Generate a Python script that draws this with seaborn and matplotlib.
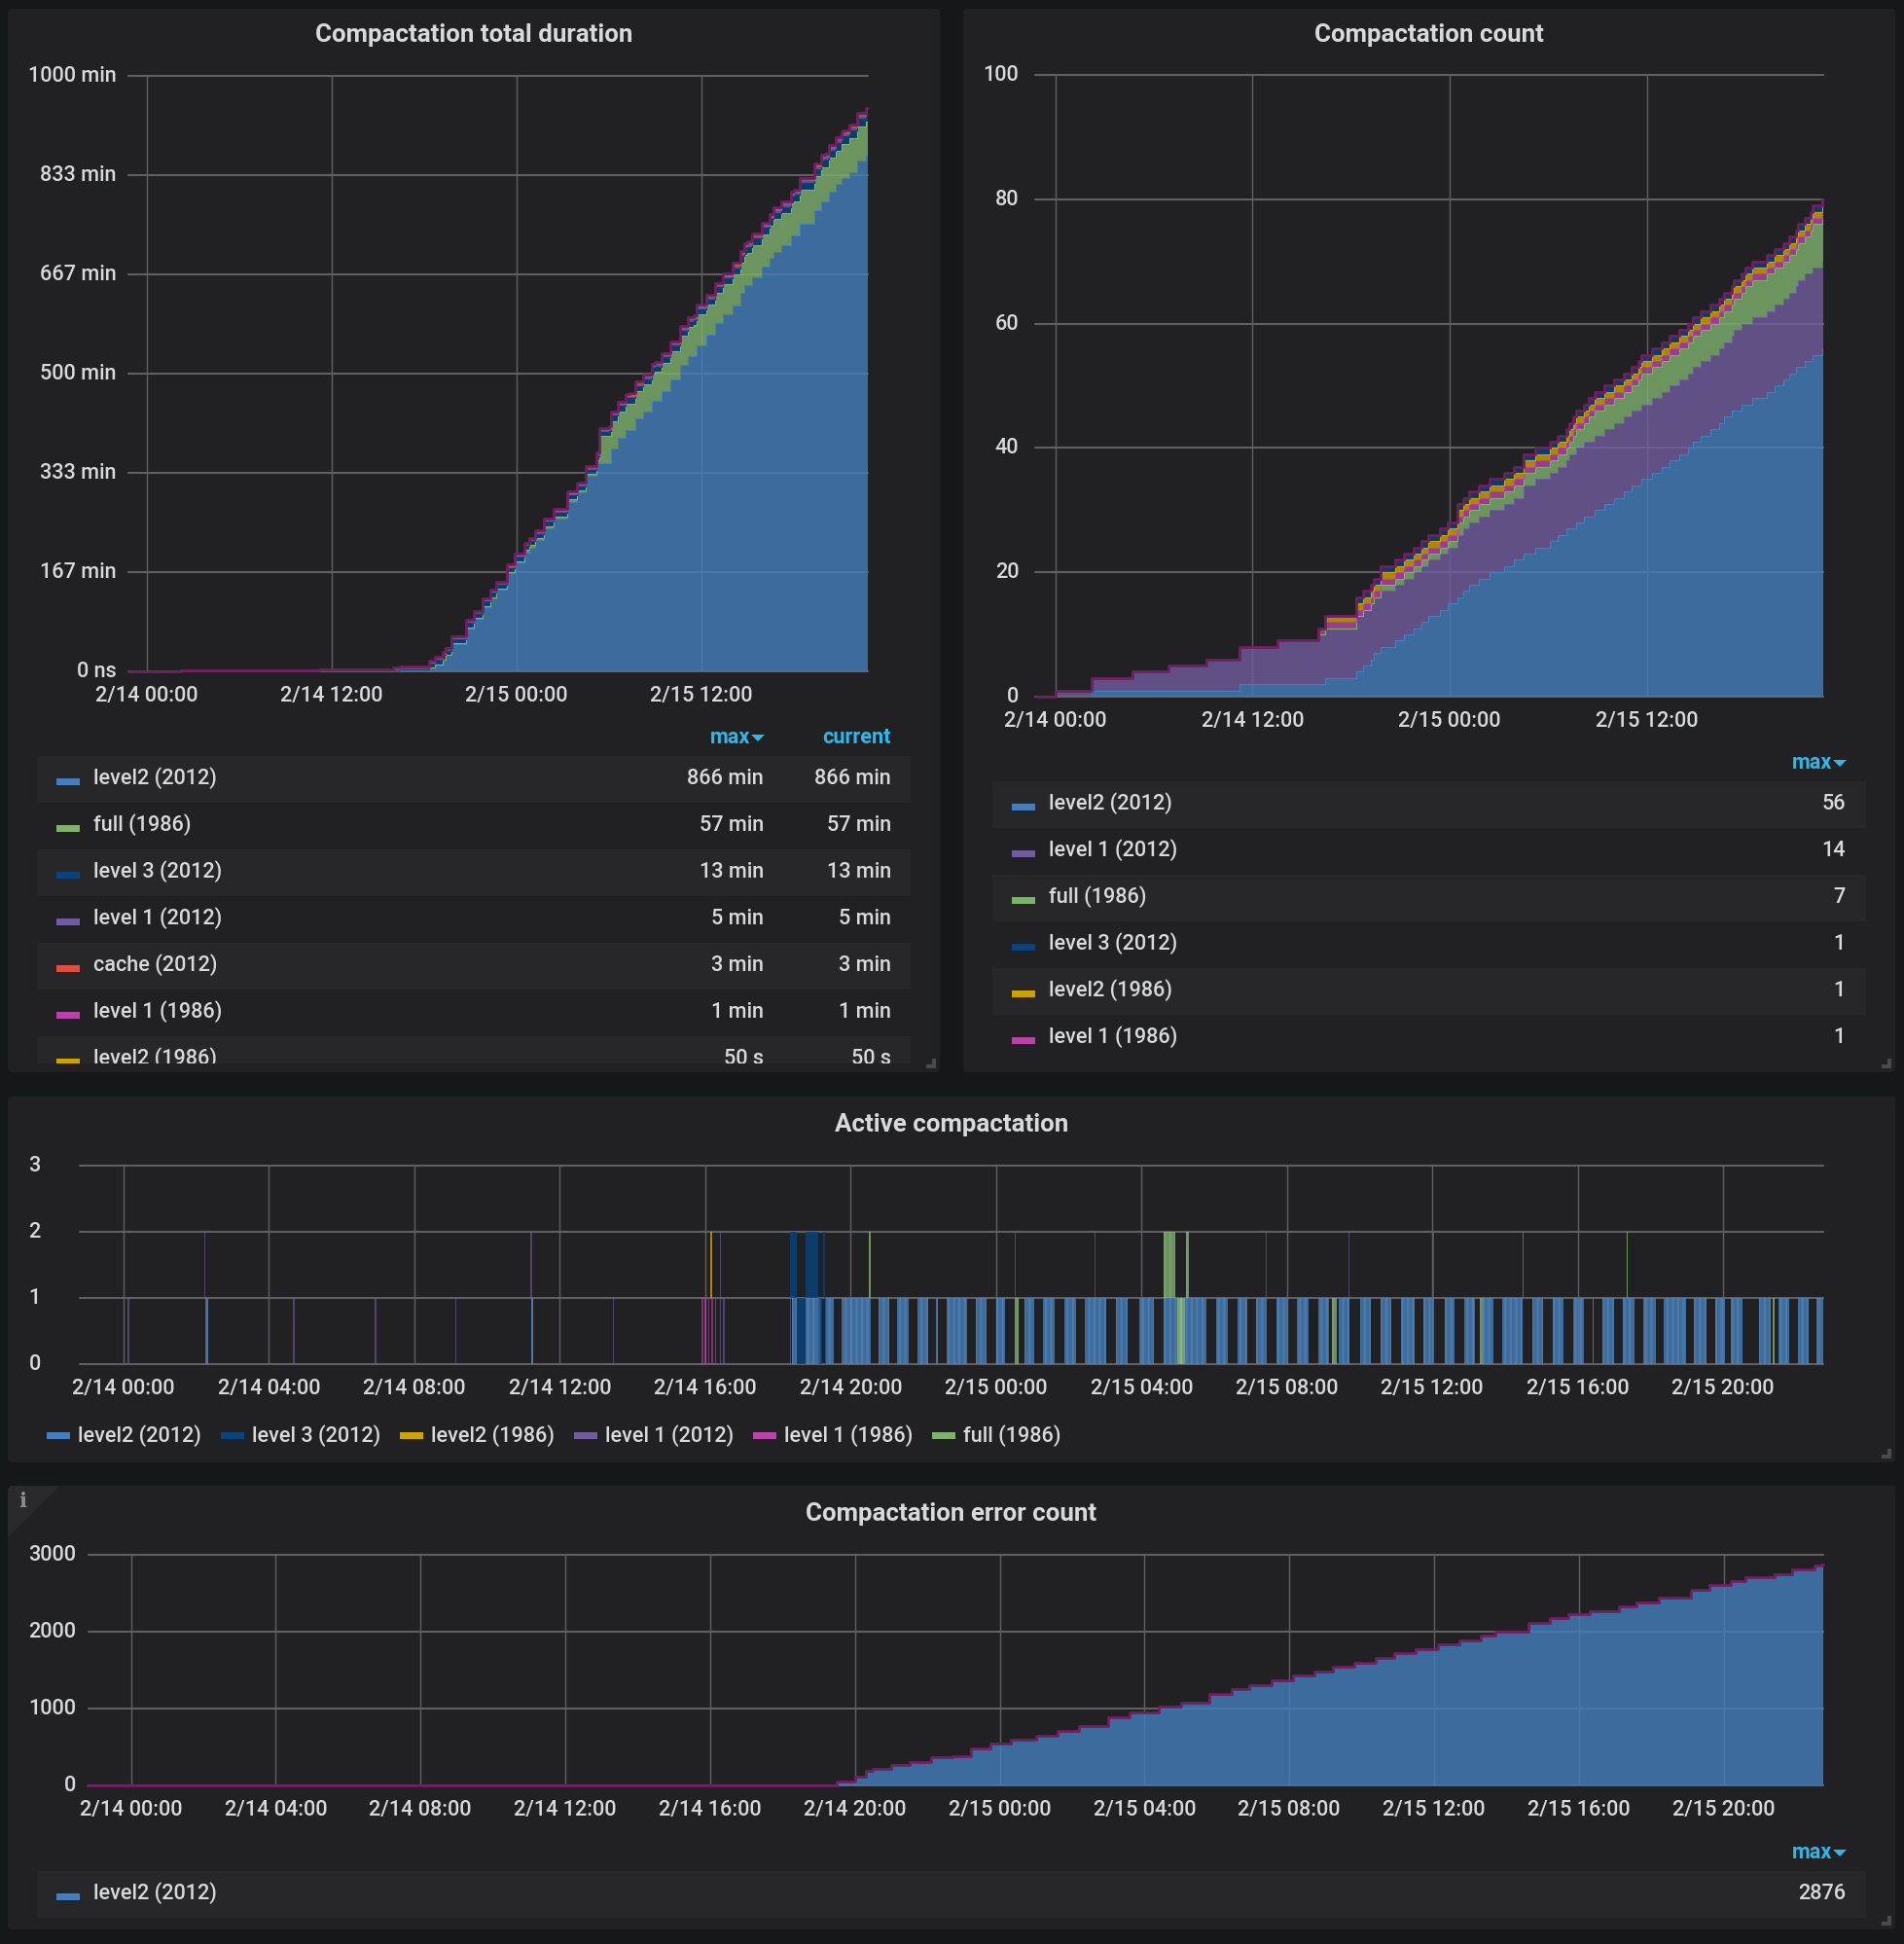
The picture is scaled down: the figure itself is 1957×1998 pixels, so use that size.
import numpy as np
import pandas as pd
import seaborn as sns
from matplotlib import pyplot as plt
from matplotlib.patches import FancyBboxPatch, Polygon, Rectangle
from matplotlib.transforms import ScaledTranslation

W, H = 1958, 1998
PAGE = '#161719'
PANEL = '#212124'
ROW = '#27272a'
GRID = '#606063'
TEXT = '#d8d9da'
LINK = '#33b5e5'
TOP_LINE = '#701f63'

BLUE = '#447EBC'
GREEN = '#7EB26D'
NAVY = '#0A437C'
PURPLE = '#705DA0'
RED = '#E24D42'
MAGENTA = '#BA43A9'
GOLD = '#CCA300'

# hours since 2/14 00:00 at which each series steps up
level2_hours = [2.2, 11.2, 16.4, 18.3, 18.7, 19.2, 19.4, 19.8, 20.7, 21.2, 21.8, 22.3, 22.7, 23.4,
                23.9, 24.5, 24.8, 25.2, 25.8, 26.4, 27.3, 27.9, 28.5, 29.2, 30.1, 30.6, 31.1, 31.7,
                32.2, 32.8, 33.4, 34.0, 34.6, 35.1, 35.7, 36.3, 36.9, 37.4, 38.0, 38.5, 38.8, 39.3,
                39.9, 40.4, 40.7, 41.2, 41.8, 42.4, 43.3, 43.8, 44.3, 44.7, 45.1, 45.6, 46.1, 46.7]
level1_hours = [0.0, 2.2, 4.7, 6.9, 9.2, 11.2, 13.5, 16.0, 18.3, 24.5, 28.5, 31.3, 41.3, 45.2]
full_hours = [19.8, 24.5, 31.5, 32.5, 35.5, 42.0, 46.0]
old_level1_hours = [16.0]
old_level2_hours = [16.4]
level3_hours = [18.3]

# total duration panel, minutes
level2_minutes = [1, 2, 4, 6, 12, 20, 28, 45, 72, 88, 108, 123, 137, 165, 183, 200, 208, 220, 240, 256,
                  285, 300, 328, 350, 375, 392, 405, 425, 437, 455, 470, 490, 515, 530, 548, 565, 585,
                  600, 615, 635, 648, 662, 680, 695, 705, 715, 732, 752, 775, 790, 805, 818, 828, 838,
                  858, 866]
full_minutes_hours = [19.8, 24.5, 29.4, 33.0, 35.5, 39.0, 42.0]
full_minutes = [2, 4, 45, 48, 51, 54, 57]
level3_minutes_hours = [18.3, 30.0, 38.0, 44.0]
level3_minutes = [7, 9, 11, 13]
level1_minutes = [0.2, 0.5, 0.7, 0.9, 1.1, 1.4, 1.6, 1.9, 2.2, 2.7, 3.3, 3.8, 4.4, 5.0]
cache_minutes_hours = [16.0, 30.0, 38.0]
cache_minutes = [1, 2, 3]
old_level1_minutes = [1.0]
old_level2_minutes = [0.8]

# active compactions: spans in hours
level2_start = [2.26, 11.22, 18.40, 18.75, 19.30, 19.76, 20.78, 21.27, 21.84, 22.36, 22.63, 23.44, 24.00,
                24.77, 25.28, 25.87, 26.43, 27.30, 27.93, 28.61, 30.06, 30.64, 31.15, 31.70, 32.27, 32.87,
                33.42, 34.00, 34.58, 35.15, 35.75, 36.33, 36.88, 37.39, 37.93, 38.76, 39.31, 39.87, 40.41,
                40.67, 41.24, 41.79, 42.35, 43.18, 43.77, 44.22, 44.73, 44.98, 45.51, 46.05, 46.55]
level2_end = [2.32, 11.27, 18.53, 19.20, 19.54, 20.56, 21.07, 21.61, 22.14, 22.41, 23.21, 23.74, 24.26,
              25.06, 25.60, 26.21, 27.04, 27.63, 28.34, 29.79, 30.37, 30.90, 31.44, 32.04, 32.60, 33.17,
              33.73, 34.32, 34.88, 35.50, 36.06, 36.61, 37.18, 37.68, 38.49, 39.04, 39.61, 40.16, 40.44,
              40.99, 41.55, 42.14, 42.98, 43.53, 44.05, 44.53, 44.75, 45.31, 45.81, 46.35, 46.75]
level3_start = [18.53, 19.11, 19.29]
level3_end = [18.75, 19.21, 19.33]
level3_second_start = [18.32, 18.75, 19.24]
level3_second_end = [18.53, 19.11, 19.30]
level1_active = [0.12, 4.67, 6.92, 9.13, 13.45, 16.40, 16.50, 18.32]
level1_second = [2.23, 11.20, 16.40, 24.51, 26.71, 31.42, 33.70, 36.03]
level2_second = [38.49]
old_level1_active = [15.90, 15.99, 16.08, 16.17, 16.26]
old_level2_second = [16.15]
full_start = [24.51, 28.97, 33.25, 37.31, 45.37]
full_end = [24.63, 29.21, 33.37, 37.39, 45.42]
full_second_start = [20.51, 28.61, 29.22, 41.34]
full_second_end = [20.56, 28.94, 29.31, 41.38]

# error count
error_hours = [18.9, 19.5, 20.0, 20.3, 20.5, 21.0, 21.5, 22.1, 22.7, 23.2, 23.75, 24.3, 25.0, 25.6, 26.2,
               27.0, 27.6, 28.4, 29.0, 29.8, 30.4, 30.9, 31.5, 32.1, 32.7, 33.2, 33.8, 34.4, 34.9, 35.5,
               36.1, 36.7, 37.3, 37.7, 38.6, 39.2, 39.7, 40.3, 41.1, 41.6, 42.2, 43.1, 43.6, 44.2, 44.6,
               45.4, 45.9, 46.5, 46.7]
error_counts = [5, 50, 120, 190, 220, 260, 310, 370, 383, 480, 538, 593, 648, 707, 770, 880, 947, 1022, 1077,
                1195, 1250, 1304, 1363, 1430, 1481, 1540, 1600, 1658, 1716, 1775, 1830, 1889, 1944, 2003,
                2112, 2171, 2230, 2272, 2327, 2385, 2440, 2550, 2613, 2655, 2710, 2751, 2815, 2865, 2876]

hour_ticks_wide = [0, 12, 24, 36]
hour_labels_wide = ['2/14 00:00', '2/14 12:00', '2/15 00:00', '2/15 12:00']
hour_ticks_full = [0, 4, 8, 12, 16, 20, 24, 28, 32, 36, 40, 44]
hour_labels_full = ['2/14 00:00', '2/14 04:00', '2/14 08:00', '2/14 12:00', '2/14 16:00', '2/14 20:00',
                    '2/15 00:00', '2/15 04:00', '2/15 08:00', '2/15 12:00', '2/15 16:00', '2/15 20:00']
duration_ticks = [0, 166.67, 333.33, 500, 666.67, 833.33, 1000]
duration_labels = ['0 ns', '167 min', '333 min', '500 min', '667 min', '833 min', '1000 min']
count_ticks = [0, 20, 40, 60, 80, 100]
active_ticks = [0, 1, 2, 3]
error_ticks = [0, 1000, 2000, 3000]

duration_names = ['level2 (2012)', 'full (1986)', 'level 3 (2012)', 'level 1 (2012)', 'cache (2012)',
                  'level 1 (1986)', 'level2 (1986)']
duration_max = ['866 min', '57 min', '13 min', '5 min', '3 min', '1 min', '50 s']
duration_colors = [BLUE, GREEN, NAVY, PURPLE, RED, MAGENTA, GOLD]
count_names = ['level2 (2012)', 'level 1 (2012)', 'full (1986)', 'level 3 (2012)', 'level2 (1986)', 'level 1 (1986)']
count_max = ['56', '14', '7', '1', '1', '1']
count_colors = [BLUE, PURPLE, GREEN, NAVY, GOLD, MAGENTA]
active_names = ['level2 (2012)', 'level 3 (2012)', 'level2 (1986)', 'level 1 (2012)', 'level 1 (1986)', 'full (1986)']
active_colors = [BLUE, NAVY, GOLD, PURPLE, MAGENTA, GREEN]

sns.set_theme(style='darkgrid', rc={'axes.facecolor': 'none', 'figure.facecolor': PAGE, 'grid.color': GRID,
                                    'hatch.linewidth': 1.6})
plt.rcParams['font.family'] = ['Roboto', 'DejaVu Sans']
plt.rcParams['font.weight'] = 'medium'
FS = 15.6

fig = plt.figure(figsize=(W / 100, H / 100), dpi=100, facecolor=PAGE)
bg = fig.add_axes([0, 0, 1, 1], zorder=-1)
bg.set_xlim(0, W)
bg.set_ylim(H, 0)
bg.axis('off')


def panel(x0, y0, x1, y1, title, title_y):
    bg.add_patch(FancyBboxPatch((x0, y0), x1 - x0, y1 - y0, boxstyle='round,pad=0,rounding_size=4',
                                fc=PANEL, ec='none', zorder=1))
    bg.text((x0 + x1) / 2, title_y + 2, title, color=TEXT, fontsize=18.6, fontweight='bold',
            ha='center', va='center', zorder=6)
    bg.add_patch(Polygon([(x1 - 4, y1 - 14), (x1 - 4, y1 - 4), (x1 - 14, y1 - 4), (x1 - 14, y1 - 8),
                          (x1 - 8, y1 - 8), (x1 - 8, y1 - 14)], fc='#4a4a4d', ec='none', zorder=6))


def plot_axes(x0, y0, x1, y1, xlim, ylim, xticks, xlabels, yticks, ylabels, ypad):
    ax = fig.add_axes([x0 / W, 1 - y1 / H, (x1 - x0) / W, (y1 - y0) / H], zorder=2)
    ax.set_xlim(*xlim)
    ax.set_ylim(*ylim)
    ax.set_xticks(xticks, xlabels)
    ax.set_yticks(yticks, ylabels)
    ax.tick_params(axis='x', length=0, pad=11, labelsize=FS, labelcolor=TEXT)
    ax.tick_params(axis='y', length=0, pad=ypad, labelsize=FS, labelcolor=TEXT)
    lift = ScaledTranslation(0, 2 / 100, fig.dpi_scale_trans)
    for tick in ax.yaxis.get_major_ticks():
        tick.label1.set_transform(tick.label1.get_transform() + lift)
    ax.set_xlabel('')
    ax.set_ylabel('')
    ax.set_axisbelow(True)
    ax.grid(axis='x', color=GRID, lw=1.0)
    ax.grid(axis='y', color=GRID, lw=1.5)
    for line in ax.get_ygridlines():
        line.set_clip_on(False)
    for spine in ax.spines.values():
        spine.set_visible(False)
    return ax


def step_values(grid, hours, values):
    # value of a step series on the common time grid
    idx = np.searchsorted(hours, grid, side='right') - 1
    vals = np.array(values, dtype=float)
    return np.where(idx >= 0, vals[np.clip(idx, 0, None)], 0.0)


def stacked(ax, series, end, top_lw=2.0):
    grid = sorted({-1.2, end} | {h for s in series for h in s[0]})
    grid = np.array(grid)
    base = np.zeros(len(grid))
    for hours, values, color in series:
        top = base + step_values(grid, hours, values)
        ax.fill_between(grid, base, top, step='post', color=color, alpha=0.8, lw=0, zorder=2)
        frame = pd.DataFrame({'hour': grid, 'value': top})
        sns.lineplot(data=frame, x='hour', y='value', ax=ax, color=color, lw=0.8, errorbar=None,
                     estimator=None, drawstyle='steps-post', zorder=3)
        base = top
    frame = pd.DataFrame({'hour': grid, 'value': base})
    sns.lineplot(data=frame, x='hour', y='value', ax=ax, color=TOP_LINE, lw=top_lw, errorbar=None,
                 estimator=None, drawstyle='steps-post', zorder=4)
    ax.lines[-1].set_clip_on(False)
    ax.set_xlabel('')
    ax.set_ylabel('')


def table(x0, x1, y0, names, colors, columns, right_edges, headers, rows_clip=None):
    for i, (name, color) in enumerate(zip(names, colors)):
        top = y0 + i * 48
        bottom = top + 48
        if rows_clip is not None:
            bottom = min(bottom, rows_clip)
        if i % 2 == 0:
            bg.add_patch(Rectangle((x0, top), x1 - x0, bottom - top, fc=ROW, ec='none', zorder=2))
        bg.add_patch(Rectangle((x0 + 20, top + 23), 24, 7, fc=color, ec='none', zorder=3))
        bg.text(x0 + 58, top + 23, name, color=TEXT, fontsize=FS, va='center', ha='left', zorder=3)
        for col, right in zip(columns, right_edges):
            bg.text(right, top + 23, col[i], color=TEXT, fontsize=FS, va='center', ha='right', zorder=3)
    for header, right, arrow in headers:
        tri = 15 if arrow else 0
        bg.text(right - tri, y0 - 19, header, color=LINK, fontsize=FS, fontweight='bold', va='center',
                ha='right', zorder=3)
        if arrow:
            bg.add_patch(Polygon([(right - 14, y0 - 22), (right, y0 - 22), (right - 7, y0 - 15)], fc=LINK,
                                 ec='none', zorder=3))


def spans(ax, starts, ends, bottom, color, striped=True, alpha=0.8):
    starts = np.array(starts)
    widths = np.array(ends) - starts
    ax.bar(starts, [1] * len(starts), width=widths, bottom=bottom, align='edge', color=color, alpha=alpha,
           lw=0, zorder=2)
    if striped:
        ax.bar(starts, [1] * len(starts), width=widths, bottom=bottom, align='edge', fill=False,
               edgecolor=(1, 1, 1, 0.10), hatch='|||', lw=0, zorder=3)


# duration panel
panel(8, 9, 966, 1102, 'Compactation total duration', 34)
ax = plot_axes(132, 78, 892, 690, (-1.2, 46.8), (0, 1000), hour_ticks_wide, hour_labels_wide,
               duration_ticks, duration_labels, 9)
stacked(ax, [(level2_hours, level2_minutes, BLUE),
             (full_minutes_hours, full_minutes, GREEN),
             (level3_minutes_hours, level3_minutes, NAVY),
             (level1_hours, level1_minutes, PURPLE),
             (cache_minutes_hours, cache_minutes, RED),
             (old_level1_hours, old_level1_minutes, MAGENTA),
             (old_level2_hours, old_level2_minutes, GOLD)], 46.8)
table(38, 936, 777, duration_names, duration_colors, [duration_max, duration_max], [785, 916],
      [('max', 786, True), ('current', 916, False)], rows_clip=1093)
bg.add_patch(Rectangle((30, 1093), 920, 9, fc=PANEL, ec='none', zorder=5))

# count panel
panel(990, 9, 1948, 1102, 'Compactation count', 34)
ax = plot_axes(1064, 77, 1874, 716, (-1.24, 46.75), (0, 100), hour_ticks_wide, hour_labels_wide,
               count_ticks, count_ticks, 12)
stacked(ax, [(level2_hours, list(range(1, 57)), BLUE),
             (level1_hours, list(range(1, 15)), PURPLE),
             (full_hours, list(range(1, 8)), GREEN),
             (old_level1_hours, [1], MAGENTA),
             (old_level2_hours, [1], GOLD),
             (level3_hours, [1], NAVY)], 46.75)
table(1020, 1918, 803, count_names, count_colors, [count_max], [1897], [('max', 1898, True)])

# active panel
panel(8, 1127, 1948, 1503, 'Active compactation', 1154)
ax = plot_axes(82, 1198, 1874, 1402, (-1.2, 46.75), (0, 3), hour_ticks_full, hour_labels_full,
               active_ticks, active_ticks, 29)
spans(ax, level2_start, level2_end, 0, BLUE)
spans(ax, level3_start, level3_end, 0, NAVY, striped=False)
spans(ax, level3_second_start, level3_second_end, 1, NAVY, striped=False)
spans(ax, level1_active, [h + 0.035 for h in level1_active], 0, PURPLE, striped=False, alpha=0.6)
spans(ax, level1_second, [h + 0.03 for h in level1_second], 1, PURPLE, striped=False, alpha=0.6)
spans(ax, level2_second, [h + 0.025 for h in level2_second], 1, BLUE, striped=False)
spans(ax, old_level1_active, [h + 0.04 for h in old_level1_active], 0, MAGENTA, striped=False, alpha=0.6)
spans(ax, old_level2_second, [h + 0.03 for h in old_level2_second], 1, GOLD, striped=False)
spans(ax, full_start, full_end, 0, GREEN)
spans(ax, full_second_start, full_second_end, 1, GREEN)
legend_swatch = [48, 227, 411, 590, 774, 958]
for left, name, color in zip(legend_swatch, active_names, active_colors):
    bg.add_patch(Rectangle((left, 1472), 24, 7, fc=color, ec='none', zorder=3))
    bg.text(left + 32, 1476, name, color=TEXT, fontsize=FS, va='center', ha='left', zorder=3)

# error panel
panel(8, 1527, 1948, 1983, 'Compactation error count', 1554)
bg.add_patch(Polygon([(8, 1531), (12, 1527), (61, 1527), (8, 1580)], fc='#2a2a2d', ec='none', zorder=2))
bg.text(23, 1543, 'i', color='#8e8e8e', fontsize=15, fontweight='bold', family='DejaVu Serif', ha='center',
        va='center', zorder=3)
ax = plot_axes(91, 1598, 1874, 1835, (-1.17, 46.75), (0, 3000), hour_ticks_full, hour_labels_full,
               error_ticks, error_ticks, 9)
stacked(ax, [(error_hours, error_counts, BLUE)], 46.75)
table(38, 1918, 1923, ['level2 (2012)'], [BLUE], [['2876']], [1897], [('max', 1898, True)])

fig.savefig('out.png', dpi=100, facecolor=PAGE)
